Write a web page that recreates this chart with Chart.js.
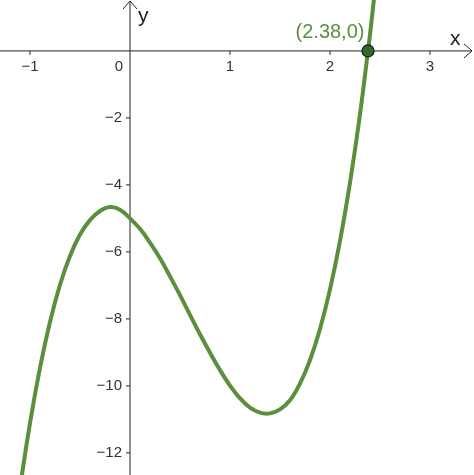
<!DOCTYPE html>
<html><head><meta charset="utf-8">
<script src="https://cdn.jsdelivr.net/npm/chart.js@4"></script>
<style>html,body{margin:0;padding:0;background:#fff}#wrap{width:474px;height:475px}</style>
</head><body><div id="wrap"><canvas id="c"></canvas></div>
<script>
// points
const xs = [-1.2,-1.1,-1.0,-0.9,-0.8,-0.7,-0.6,-0.5,-0.4,-0.3,-0.2,-0.1,0,0.1,0.2,0.3,0.4,0.5,0.6,0.7,0.8,0.9,1.0,1.1,1.2,1.3,1.4,1.5,1.6,1.7,1.8,1.9,2.0,2.1,2.2,2.3,2.38,2.4,2.5];
const ys = [-15.33,-13.06,-11.11,-9.46,-8.09,-6.98,-6.12,-5.48,-5.05,-4.78,-4.66,-4.74,-5.0,-5.31,-5.72,-6.19,-6.73,-7.29,-7.88,-8.46,-9.01,-9.53,-9.99,-10.37,-10.65,-10.8,-10.82,-10.7,-10.43,-9.93,-9.23,-8.30,-7.12,-5.67,-3.93,-1.89,0,0.48,3.19];
const xTicks = [-1,0,1,2,3];
const yTicks = [-2,-4,-6,-8,-10,-12];
const rootPt = [2.38, 0];
const rootLabel = "(2.38,0)";

const green = '#5a8f3d';
const axes = {
  id: 'axes',
  beforeDatasetsDraw(ch) {
    const c = ch.ctx, sx = ch.scales.x, sy = ch.scales.y;
    const x0 = sx.getPixelForValue(0), y0 = sy.getPixelForValue(0);
    c.save();
    c.strokeStyle = '#252525'; c.lineWidth = 1;
    c.beginPath();
    c.moveTo(0, y0); c.lineTo(ch.width - 2, y0);
    c.moveTo(x0, ch.height); c.lineTo(x0, 1);
    c.stroke();
    c.beginPath();
    c.moveTo(ch.width - 10, y0 - 7); c.lineTo(ch.width - 2, y0); c.lineTo(ch.width - 10, y0 + 7);
    c.moveTo(x0 - 7, 9); c.lineTo(x0, 1); c.lineTo(x0 + 7, 9);
    c.stroke();
    c.fillStyle = '#333'; c.font = '15px "Liberation Sans", Arial';
    c.textAlign = 'center'; c.textBaseline = 'top';
    xTicks.forEach(v => {
      const px = sx.getPixelForValue(v);
      const t = v < 0 ? '\u2212' + (-v) : String(v);
      c.fillText(t, v === 0 ? px - 11 : px, y0 + 8);
      if (v !== 0) { c.beginPath(); c.moveTo(px, y0); c.lineTo(px, y0 + 4); c.stroke(); }
    });
    c.textAlign = 'right'; c.textBaseline = 'middle';
    yTicks.forEach(v => {
      const py = sy.getPixelForValue(v);
      c.fillText('\u2212' + (-v), x0 - 8, py);
      c.beginPath(); c.moveTo(x0 - 4, py); c.lineTo(x0, py); c.stroke();
    });
    c.font = '21px "Liberation Sans", Arial'; c.fillStyle = '#222';
    c.textAlign = 'left';
    c.fillText('x', ch.width - 24, y0 - 12);
    c.fillText('y', x0 + 8, 16);
    c.restore();
  },
  afterDatasetsDraw(ch) {
    const c = ch.ctx, sx = ch.scales.x, sy = ch.scales.y;
    const px = sx.getPixelForValue(rootPt[0]), py = sy.getPixelForValue(rootPt[1]);
    c.save();
    c.fillStyle = '#2e6a28'; c.strokeStyle = '#1a1a1a'; c.lineWidth = 1.2;
    c.beginPath(); c.arc(px, py, 6, 0, Math.PI * 2); c.fill(); c.stroke();
    c.fillStyle = green; c.font = '20px "Liberation Sans", Arial';
    c.textAlign = 'center'; c.textBaseline = 'bottom';
    c.fillText(rootLabel, px - 38, py - 8);
    c.restore();
  }
};

new Chart(document.getElementById('c'), {
  type: 'line',
  data: { datasets: [{ data: xs.map((x, i) => ({ x, y: ys[i] })), borderColor: green, borderWidth: 4, pointRadius: 0, tension: 0.4, cubicInterpolationMode: 'default' }] },
  options: {
    responsive: true, maintainAspectRatio: false, animation: false,
    layout: { padding: 0 },
    plugins: { legend: { display: false }, tooltip: { enabled: false } },
    scales: {
      x: { type: 'linear', min: -1.3, max: 3.44, display: false },
      y: { min: -12.66, max: 1.52, display: false }
    }
  },
  plugins: [axes]
});
</script></body></html>
